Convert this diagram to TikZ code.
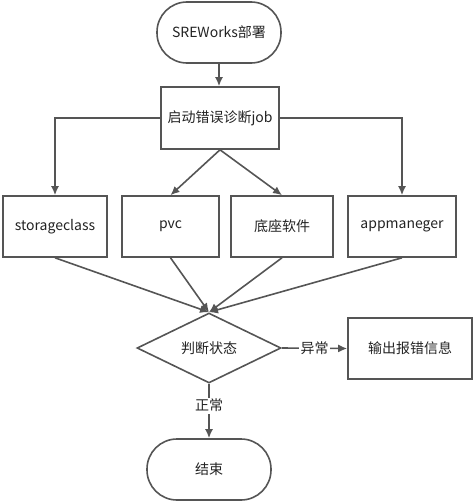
\documentclass[tikz,border=0pt]{standalone}
\usepackage{fontspec}
\setmainfont{Noto Sans CJK SC}
\usetikzlibrary{shapes.geometric,arrows.meta}
\definecolor{ln}{HTML}{555555}
\definecolor{tx}{HTML}{222222}
\begin{document}
\begin{tikzpicture}[x=1pt,y=-1pt,
  every node/.style={font=\fontsize{14}{16}\selectfont, text=tx},
  box/.style={draw=ln, line width=1.6pt, minimum height=61pt, inner sep=0pt},
  stadium/.style={box, rounded corners=30pt, minimum width=124pt},
  decide/.style={draw=ln, line width=1.6pt, diamond, aspect=2, minimum width=144pt, minimum height=70pt, inner sep=0pt},
  conn/.style={draw=ln, line width=1.6pt, -{Latex[length=9pt,width=8pt]}},
  lbl/.style={fill=white, inner sep=1.5pt}]
\useasboundingbox (0,0) rectangle (474,503);
\node[stadium] (start) at (219,32.5) {SREWorks部署};
\node[box, minimum width=118pt, minimum height=62pt] (job) at (220,118) {启动错误诊断job};
\node[box, minimum width=104pt] (sc) at (55,226.5) {storageclass};
\node[box, minimum width=97pt] (pvc) at (170.5,226.5) {pvc};
\node[box, minimum width=102pt] (base) at (282,226.5) {底座软件};
\node[box, minimum width=108pt] (app) at (402,226.5) {appmaneger};
\node[decide] (dec) at (209,348) {判断状态};
\node[box, minimum width=124pt] (out) at (410,348.5) {输出报错信息};
\node[stadium] (end) at (209,469.5) {结束};
\draw[conn] (start.south) -- (start.south |- job.north);
\draw[conn] (job.west) -| (sc.north);
\draw[conn] (job.east) -| (app.north);
\draw[conn] (job.south) -- (pvc.north);
\draw[conn] (job.south) -- (base.north);
\draw[conn] (sc.south) -- (dec.north);
\draw[conn] (pvc.south) -- (dec.north);
\draw[conn] (base.south) -- (dec.north);
\draw[conn] (app.south) -- (dec.north);
\draw[conn] (dec.east) -- node[lbl] {异常} (out.west);
\draw[conn] (dec.south) -- node[lbl, pos=0.4] {正常} (end.north);
\end{tikzpicture}
\end{document}
